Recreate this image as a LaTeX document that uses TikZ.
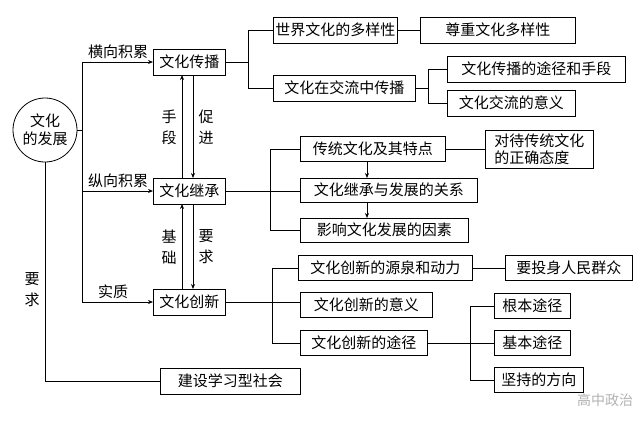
\documentclass[tikz,border=0pt]{standalone}
\usepackage{fontspec}
\newfontfamily\cjk{Noto Sans CJK SC}
\usetikzlibrary{arrows.meta}
\begin{document}
\begin{tikzpicture}[x=1pt,y=-1pt,font=\cjk\fontsize{15}{17}\selectfont,
  box/.style={draw,line width=0.8pt,inner sep=2pt,minimum height=26pt,anchor=west},
  ln/.style={line width=0.8pt},
  ar/.style={line width=0.8pt,-{Stealth[length=5pt,width=4pt]}},
  lab/.style={inner sep=1pt}]
\useasboundingbox (0,0) rectangle (640,426);
\node[draw,circle,line width=0.8pt,minimum size=64pt,inner sep=0pt,align=center,font=\cjk\fontsize{15}{18}\selectfont] (c) at (45,130) {文化\\的发展};
\node[box,minimum width=72pt] (cb) at (153,62) {文化传播};
\node[box,minimum width=72pt] (jc) at (153,191) {文化继承};
\node[box,minimum width=72pt] (cx) at (153,302) {文化创新};
\node[box,minimum width=140pt] (xx) at (160,381) {建设学习型社会};
\coordinate (t1) at (82,62); \coordinate (t3) at (82,302);
\draw[ln] (c.east) -- (82,130);
\draw[ln] (t1) -- (t3);
\draw[ar] (t1) -- (cb.west);
\draw[ar] (82,191) -- (jc.west);
\draw[ar] (t3) -- (cx.west);
\node[lab,anchor=south] at (118,60) {横向积累};
\node[lab,anchor=south] at (118,189) {纵向积累};
\node[lab,anchor=south] at (113,300) {实质};
\draw[ln] (c.south) -- (45,381) -- (xx.west);
\node[lab,align=center,font=\cjk\fontsize{15}{21}\selectfont] at (32,290) {要\\求};
\draw[ar] (182,178) -- (182,75);
\draw[ar] (193,75) -- (193,178);
\draw[ar] (182,289) -- (182,204);
\draw[ar] (193,204) -- (193,289);
\node[lab,align=center,font=\cjk\fontsize{15}{21}\selectfont] at (169,127) {手\\段};
\node[lab,align=center,font=\cjk\fontsize{15}{21}\selectfont] at (206,127) {促\\进};
\node[lab,align=center,font=\cjk\fontsize{15}{21}\selectfont] at (169,247) {基\\础};
\node[lab,align=center,font=\cjk\fontsize{15}{21}\selectfont] at (206,247) {要\\求};
\node[box,minimum width=112pt] (a1) at (273,30) {世界文化的多样性};
\node[box,minimum width=142pt] (a2) at (273,88) {文化在交流中传播};
\node[box,minimum width=155pt] (a3) at (420,30) {尊重文化多样性};
\node[box,minimum width=178pt] (a4) at (447,69) {文化传播的途径和手段};
\node[box,minimum width=128pt] (a5) at (447,103) {文化交流的意义};
\draw[ln] (cb.east) -- (248,62);
\draw[ln] (248,30) -- (248,88);
\draw[ln] (248,30) -- (a1.west); \draw[ln] (248,88) -- (a2.west);
\draw[ln] (a1.east) -- (a3.west);
\draw[ln] (a2.east) -- (428,88);
\draw[ln] (428,69) -- (428,103);
\draw[ln] (428,69) -- (a4.west); \draw[ln] (428,103) -- (a5.west);
\node[box,minimum width=145pt,minimum height=25pt] (b1) at (300,149) {传统文化及其特点};
\node[box,minimum width=177pt,minimum height=24pt] (b2) at (300,190) {文化继承与发展的关系};
\node[box,minimum width=168pt,minimum height=24pt] (b3) at (300,230) {影响文化发展的因素};
\node[box,minimum width=108pt,minimum height=38pt,align=left,font=\cjk\fontsize{15}{17}\selectfont] (b4) at (485,149) {对待传统文化\\的正确态度};
\draw[ln] (jc.east) -- (300,191);
\draw[ln] (270,149) -- (270,230);
\draw[ln] (270,149) -- (b1.west); \draw[ln] (270,230) -- (b3.west);
\draw[ln] (b1.east) -- (b4.west);
\draw[ar] (367,162) -- (367,178);
\draw[ar] (367,202) -- (367,218);
\node[box,minimum width=174pt,minimum height=25pt] (d1) at (298,268) {文化创新的源泉和动力};
\node[box,minimum width=132pt,minimum height=25pt] (d2) at (300,305) {文化创新的意义};
\node[box,minimum width=127pt,minimum height=25pt] (d3) at (300,343) {文化创新的途径};
\node[box,minimum width=127pt,minimum height=25pt] (d4) at (505,268) {要投身人民群众};
\node[box,minimum width=76pt,minimum height=25pt] (e1) at (494,306) {根本途径};
\node[box,minimum width=76pt,minimum height=25pt] (e2) at (494,343) {基本途径};
\node[box,minimum width=89pt,minimum height=25pt] (e3) at (494,380) {坚持的方向};
\draw[ln] (cx.east) -- (300,302);
\draw[ln] (272,268) -- (272,343);
\draw[ln] (272,268) -- (d1.west); \draw[ln] (272,343) -- (d3.west);
\draw[ln] (d1.east) -- (d4.west);
\draw[ln] (d3.east) -- (e2.west);
\draw[ln] (470,306) -- (470,380);
\draw[ln] (470,306) -- (e1.west); \draw[ln] (470,380) -- (e3.west);
\node[text=gray!60,font=\cjk\fontsize{14}{16}\selectfont] at (605,400) {高中政治};
\end{tikzpicture}
\end{document}
